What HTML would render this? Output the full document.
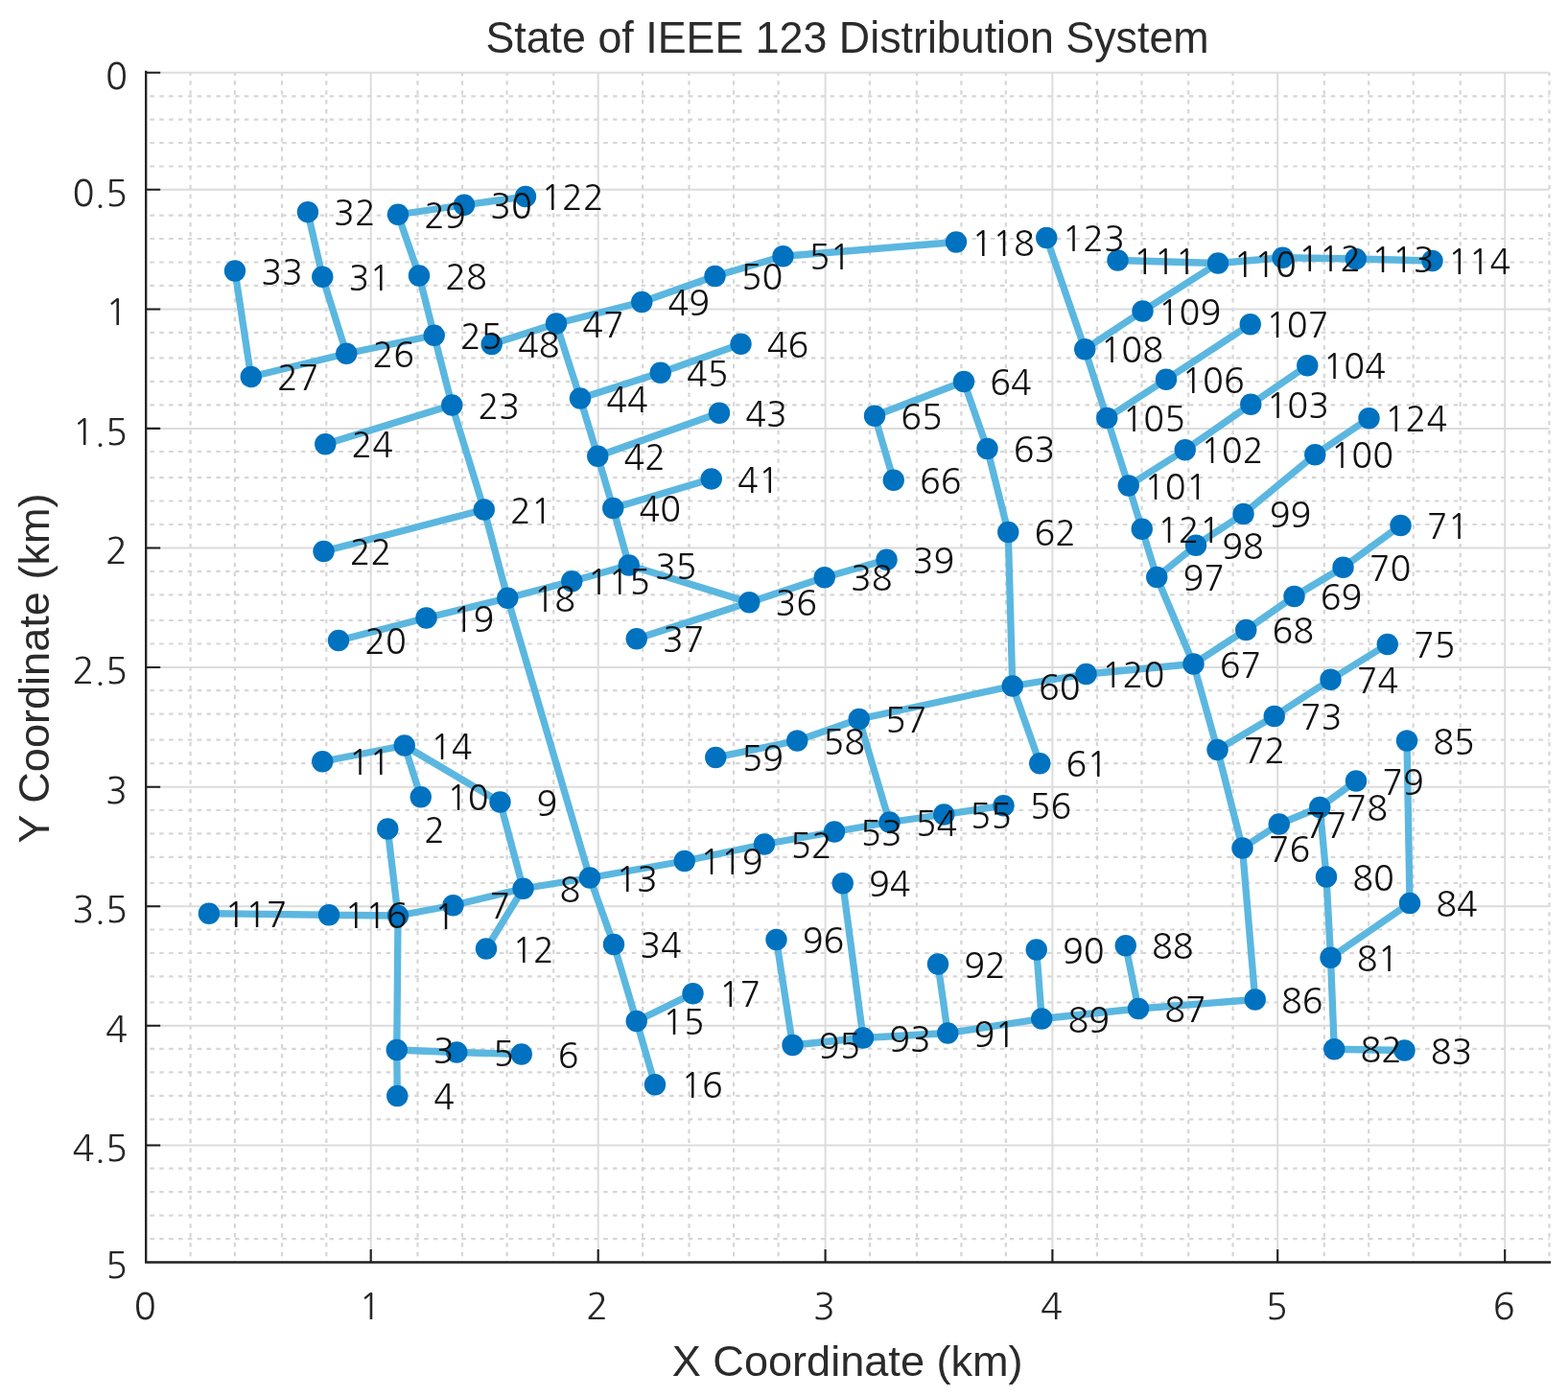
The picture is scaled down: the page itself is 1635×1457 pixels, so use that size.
<!DOCTYPE html><html><head><meta charset="utf-8"><title>State of IEEE 123 Distribution System</title>
<style>html,body{margin:0;padding:0;background:#fff;}svg{display:block;}svg{font-family:"Liberation Sans",Arial,Helvetica,sans-serif;}</style></head><body>
<svg width="1635" height="1457" viewBox="0 0 1635 1457">
<rect width="1635" height="1457" fill="#fff"/>
<path d="M198.6 75.8V1316.5M244.9 75.8V1316.5M294 75.8V1316.5M340.3 75.8V1316.5M435.5 75.8V1316.5M482 75.8V1316.5M528.6 75.8V1316.5M577.2 75.8V1316.5M670.1 75.8V1316.5M718.5 75.8V1316.5M765.1 75.8V1316.5M811.6 75.8V1316.5M907 75.8V1316.5M956 75.8V1316.5M1002.4 75.8V1316.5M1048.8 75.8V1316.5M1143.9 75.8V1316.5M1190.5 75.8V1316.5M1239.2 75.8V1316.5M1285.6 75.8V1316.5M1380.8 75.8V1316.5M1427.2 75.8V1316.5M1473.7 75.8V1316.5M1522.7 75.8V1316.5M1615.5 75.8V1316.5" stroke="#d6d6d6" stroke-width="2.2" stroke-dasharray="4.5 5.35" stroke-dashoffset="1.3" fill="none"/>
<path d="M152.2 100.3H1615.5M152.2 124.6H1615.5M152.2 149H1615.5M152.2 173.5H1615.5M152.2 224.6H1615.5M152.2 249H1615.5M152.2 273.5H1615.5M152.2 297.9H1615.5M152.2 346.8H1615.5M152.2 373.4H1615.5M152.2 397.9H1615.5M152.2 422.4H1615.5M152.2 471H1615.5M152.2 498.2H1615.5M152.2 522.5H1615.5M152.2 547H1615.5M152.2 595.9H1615.5M152.2 620.4H1615.5M152.2 647H1615.5M152.2 671.5H1615.5M152.2 720.2H1615.5M152.2 744.7H1615.5M152.2 771.6H1615.5M152.2 796.1H1615.5M152.2 845H1615.5M152.2 869.4H1615.5M152.2 893.9H1615.5M152.2 921H1615.5M152.2 969.5H1615.5M152.2 994H1615.5M152.2 1018.4H1615.5M152.2 1045.5H1615.5M152.2 1093.9H1615.5M152.2 1118.4H1615.5M152.2 1142.9H1615.5M152.2 1167.4H1615.5M152.2 1218.7H1615.5M152.2 1243.2H1615.5M152.2 1267.7H1615.5M152.2 1292.2H1615.5" stroke="#d6d6d6" stroke-width="2.2" stroke-dasharray="4.5 5.35" stroke-dashoffset="-4.2" fill="none"/>
<path d="M386.7 75.8V1316.5M623.7 75.8V1316.5M860.6 75.8V1316.5M1097.4 75.8V1316.5M1332.2 75.8V1316.5M1569.2 75.8V1316.5M152.2 75.8H1615.5M152.2 197.8H1615.5M152.2 322.5H1615.5M152.2 446.9H1615.5M152.2 571.5H1615.5M152.2 696H1615.5M152.2 820.7H1615.5M152.2 945.3H1615.5M152.2 1069.8H1615.5M152.2 1194.5H1615.5" stroke="#dcdcdc" stroke-width="2.0" fill="none"/>
<path d="M415 955L404.25 864.5M415 955L413.75 1095M415 955L472.5 944.25M413.75 1095L414.25 1143M413.75 1095L476.25 1097.5M476.25 1097.5L543.75 1099.5M472.5 944.25L545.5 926.75M545.5 926.75L507 989.5M545.5 926.75L521.5 836.5M545.5 926.75L615 915.5M521.5 836.5L421.75 777.5M615 915.5L640 985M615 915.5L529.25 623.75M421.75 777.5L336.25 794.25M421.75 777.5L438.75 831.25M663.75 1065L683 1131.25M663.75 1065L722.5 1036.25M529.25 623.75L444.5 644.5M529.25 623.75L504.75 531.5M444.5 644.5L353 668M504.75 531.5L337.5 575M504.75 531.5L471.25 422.5M471.25 422.5L339.25 463.25M471.25 422.5L452.7 349.8M452.7 349.8L361.25 368.75M452.7 349.8L437 287.5M361.25 368.75L261.75 393M361.25 368.75L336.25 288.75M261.75 393L245 282.5M437 287.5L415 223.75M415 223.75L484 213.75M484 213.75L548 205M336.25 288.75L320.9 221.2M640 985L663.75 1065M655.75 589.5L781.25 628.25M655.75 589.5L639.25 530M781.25 628.25L663.75 666.25M781.25 628.25L859.75 602.25M859.75 602.25L924.5 583.75M639.25 530L741.75 499.5M639.25 530L623.25 475.75M623.25 475.75L750 430.75M623.25 475.75L605 415.5M605 415.5L688.75 388.75M605 415.5L580 337.5M688.75 388.75L772.5 358.75M580 337.5L512.7 359M580 337.5L669.25 315M669.25 315L745.5 288M745.5 288L816.5 267.25M816.5 267.25L997 252.5M797 880.5L870 867.5M870 867.5L927.5 857.5M927.5 857.5L984.25 849.5M927.5 857.5L895.75 750M984.25 849.5L1046.5 840.25M895.75 750L831.25 772.5M895.75 750L1055.75 715.5M831.25 772.5L746.25 790M1055.75 715.5L1084.25 796.25M1055.75 715.5L1051.25 555M1051.25 555L1029.5 468M1029.5 468L1005 398M1005 398L912 433.75M912 433.75L931.75 500.75M1244.5 692.5L1299.25 657M1244.5 692.5L1269.5 782M1244.5 692.5L1206.25 602M1299.25 657L1349.5 622M1349.5 622L1400.5 591.75M1400.5 591.75L1460.5 548M1269.5 782L1328.75 747M1269.5 782L1295.5 884.5M1328.75 747L1387.5 708.75M1387.5 708.75L1446.75 672M1295.5 884.5L1333.75 859.5M1295.5 884.5L1308.75 1042.5M1333.75 859.5L1376.25 842M1376.25 842L1414 814.5M1376.25 842L1383 914.5M1383 914.5L1387.5 998.75M1387.5 998.75L1391.25 1094.25M1387.5 998.75L1470 942M1391.25 1094.25L1464.5 1095.5M1470 942L1467 772.5M1308.75 1042.5L1187 1052M1187 1052L1173.75 986.25M1187 1052L1086.25 1062.5M1086.25 1062.5L1080.75 990.5M1086.25 1062.5L988.25 1077.5M988.25 1077.5L978 1005.5M988.25 1077.5L900 1082.5M900 1082.5L878.75 921.25M900 1082.5L826.5 1090M826.5 1090L809.5 980M1206.25 602L1247 568.75M1206.25 602L1190.75 551.75M1247 568.75L1296.5 536M1296.5 536L1371.25 474.25M1371.25 474.25L1427.5 436.25M1190.75 551.75L1176.75 506.5M1176.75 506.5L1235.75 469.25M1176.75 506.5L1154.25 436M1235.75 469.25L1304.25 421.75M1304.25 421.75L1363.25 381.25M1154.25 436L1216 395.75M1154.25 436L1131.25 364.25M1216 395.75L1303.75 338.25M1131.25 364.25L1191.5 324.5M1131.25 364.25L1091.25 248M1191.5 324.5L1270 274.5M1270 274.5L1165.5 271.5M1270 274.5L1337.5 268.75M1337.5 268.75L1413.75 270M1413.75 270L1493.5 272M529.25 623.75L596.25 606.25M596.25 606.25L655.75 589.5M217.9 952.75L343 954.25M343 954.25L415 955M615 915.5L713.75 898M713.75 898L797 880.5M1055.75 715.5L1132.5 703M1132.5 703L1244.5 692.5" stroke="#5bb7e0" stroke-width="7.3" stroke-linecap="round" fill="none"/>
<g fill="#0072bf">
<circle cx="415" cy="955" r="11.2"/>
<circle cx="404.25" cy="864.5" r="11.2"/>
<circle cx="413.75" cy="1095" r="11.2"/>
<circle cx="414.25" cy="1143" r="11.2"/>
<circle cx="476.25" cy="1097.5" r="11.2"/>
<circle cx="543.75" cy="1099.5" r="11.2"/>
<circle cx="472.5" cy="944.25" r="11.2"/>
<circle cx="545.5" cy="926.75" r="11.2"/>
<circle cx="521.5" cy="836.5" r="11.2"/>
<circle cx="438.75" cy="831.25" r="11.2"/>
<circle cx="336.25" cy="794.25" r="11.2"/>
<circle cx="507" cy="989.5" r="11.2"/>
<circle cx="615" cy="915.5" r="11.2"/>
<circle cx="421.75" cy="777.5" r="11.2"/>
<circle cx="663.75" cy="1065" r="11.2"/>
<circle cx="683" cy="1131.25" r="11.2"/>
<circle cx="722.5" cy="1036.25" r="11.2"/>
<circle cx="529.25" cy="623.75" r="11.2"/>
<circle cx="444.5" cy="644.5" r="11.2"/>
<circle cx="353" cy="668" r="11.2"/>
<circle cx="504.75" cy="531.5" r="11.2"/>
<circle cx="337.5" cy="575" r="11.2"/>
<circle cx="471.25" cy="422.5" r="11.2"/>
<circle cx="339.25" cy="463.25" r="11.2"/>
<circle cx="452.7" cy="349.8" r="11.2"/>
<circle cx="361.25" cy="368.75" r="11.2"/>
<circle cx="261.75" cy="393" r="11.2"/>
<circle cx="437" cy="287.5" r="11.2"/>
<circle cx="415" cy="223.75" r="11.2"/>
<circle cx="484" cy="213.75" r="11.2"/>
<circle cx="336.25" cy="288.75" r="11.2"/>
<circle cx="320.9" cy="221.2" r="11.2"/>
<circle cx="245" cy="282.5" r="11.2"/>
<circle cx="640" cy="985" r="11.2"/>
<circle cx="655.75" cy="589.5" r="11.2"/>
<circle cx="781.25" cy="628.25" r="11.2"/>
<circle cx="663.75" cy="666.25" r="11.2"/>
<circle cx="859.75" cy="602.25" r="11.2"/>
<circle cx="924.5" cy="583.75" r="11.2"/>
<circle cx="639.25" cy="530" r="11.2"/>
<circle cx="741.75" cy="499.5" r="11.2"/>
<circle cx="623.25" cy="475.75" r="11.2"/>
<circle cx="750" cy="430.75" r="11.2"/>
<circle cx="605" cy="415.5" r="11.2"/>
<circle cx="688.75" cy="388.75" r="11.2"/>
<circle cx="772.5" cy="358.75" r="11.2"/>
<circle cx="580" cy="337.5" r="11.2"/>
<circle cx="512.7" cy="359" r="11.2"/>
<circle cx="669.25" cy="315" r="11.2"/>
<circle cx="745.5" cy="288" r="11.2"/>
<circle cx="816.5" cy="267.25" r="11.2"/>
<circle cx="797" cy="880.5" r="11.2"/>
<circle cx="870" cy="867.5" r="11.2"/>
<circle cx="927.5" cy="857.5" r="11.2"/>
<circle cx="984.25" cy="849.5" r="11.2"/>
<circle cx="1046.5" cy="840.25" r="11.2"/>
<circle cx="895.75" cy="750" r="11.2"/>
<circle cx="831.25" cy="772.5" r="11.2"/>
<circle cx="746.25" cy="790" r="11.2"/>
<circle cx="1055.75" cy="715.5" r="11.2"/>
<circle cx="1084.25" cy="796.25" r="11.2"/>
<circle cx="1051.25" cy="555" r="11.2"/>
<circle cx="1029.5" cy="468" r="11.2"/>
<circle cx="1005" cy="398" r="11.2"/>
<circle cx="912" cy="433.75" r="11.2"/>
<circle cx="931.75" cy="500.75" r="11.2"/>
<circle cx="1244.5" cy="692.5" r="11.2"/>
<circle cx="1299.25" cy="657" r="11.2"/>
<circle cx="1349.5" cy="622" r="11.2"/>
<circle cx="1400.5" cy="591.75" r="11.2"/>
<circle cx="1460.5" cy="548" r="11.2"/>
<circle cx="1269.5" cy="782" r="11.2"/>
<circle cx="1328.75" cy="747" r="11.2"/>
<circle cx="1387.5" cy="708.75" r="11.2"/>
<circle cx="1446.75" cy="672" r="11.2"/>
<circle cx="1295.5" cy="884.5" r="11.2"/>
<circle cx="1333.75" cy="859.5" r="11.2"/>
<circle cx="1376.25" cy="842" r="11.2"/>
<circle cx="1414" cy="814.5" r="11.2"/>
<circle cx="1383" cy="914.5" r="11.2"/>
<circle cx="1387.5" cy="998.75" r="11.2"/>
<circle cx="1391.25" cy="1094.25" r="11.2"/>
<circle cx="1464.5" cy="1095.5" r="11.2"/>
<circle cx="1470" cy="942" r="11.2"/>
<circle cx="1467" cy="772.5" r="11.2"/>
<circle cx="1308.75" cy="1042.5" r="11.2"/>
<circle cx="1187" cy="1052" r="11.2"/>
<circle cx="1173.75" cy="986.25" r="11.2"/>
<circle cx="1086.25" cy="1062.5" r="11.2"/>
<circle cx="1080.75" cy="990.5" r="11.2"/>
<circle cx="988.25" cy="1077.5" r="11.2"/>
<circle cx="978" cy="1005.5" r="11.2"/>
<circle cx="900" cy="1082.5" r="11.2"/>
<circle cx="878.75" cy="921.25" r="11.2"/>
<circle cx="826.5" cy="1090" r="11.2"/>
<circle cx="809.5" cy="980" r="11.2"/>
<circle cx="1206.25" cy="602" r="11.2"/>
<circle cx="1247" cy="568.75" r="11.2"/>
<circle cx="1296.5" cy="536" r="11.2"/>
<circle cx="1371.25" cy="474.25" r="11.2"/>
<circle cx="1176.75" cy="506.5" r="11.2"/>
<circle cx="1235.75" cy="469.25" r="11.2"/>
<circle cx="1304.25" cy="421.75" r="11.2"/>
<circle cx="1363.25" cy="381.25" r="11.2"/>
<circle cx="1154.25" cy="436" r="11.2"/>
<circle cx="1216" cy="395.75" r="11.2"/>
<circle cx="1303.75" cy="338.25" r="11.2"/>
<circle cx="1131.25" cy="364.25" r="11.2"/>
<circle cx="1191.5" cy="324.5" r="11.2"/>
<circle cx="1270" cy="274.5" r="11.2"/>
<circle cx="1165.5" cy="271.5" r="11.2"/>
<circle cx="1337.5" cy="268.75" r="11.2"/>
<circle cx="1413.75" cy="270" r="11.2"/>
<circle cx="1493.5" cy="272" r="11.2"/>
<circle cx="596.25" cy="606.25" r="11.2"/>
<circle cx="343" cy="954.25" r="11.2"/>
<circle cx="217.9" cy="952.75" r="11.2"/>
<circle cx="997" cy="252.5" r="11.2"/>
<circle cx="713.75" cy="898" r="11.2"/>
<circle cx="1132.5" cy="703" r="11.2"/>
<circle cx="1190.75" cy="551.75" r="11.2"/>
<circle cx="548" cy="205" r="11.2"/>
<circle cx="1091.25" cy="248" r="11.2"/>
<circle cx="1427.5" cy="436.25" r="11.2"/>
</g>
<path d="M152.2 74.9V1316.5H1616" stroke="#1f1f1f" stroke-width="2.3" fill="none" stroke-linecap="square"/>
<path d="M152.2 75.8h15M152.2 197.8h15M152.2 322.5h15M152.2 446.9h15M152.2 571.5h15M152.2 696h15M152.2 820.7h15M152.2 945.3h15M152.2 1069.8h15M152.2 1194.5h15M386.7 1316.5v-13.5M623.7 1316.5v-13.5M860.6 1316.5v-13.5M1097.4 1316.5v-13.5M1332.2 1316.5v-13.5M1569.2 1316.5v-13.5" stroke="#1f1f1f" stroke-width="2.1" fill="none"/>
<g font-size="38" fill="#262626" font-family="NanumGothic,'Liberation Sans',sans-serif">
<text transform="translate(133 92.6) scale(1.0 1)" text-anchor="end">0</text>
<text transform="translate(133 214.6) scale(1.0 1)" text-anchor="end">0.5</text>
<text transform="translate(133 339.3) scale(1.0 1)" text-anchor="end">1</text>
<text transform="translate(133 463.7) scale(1.0 1)" text-anchor="end">1.5</text>
<text transform="translate(133 588.3) scale(1.0 1)" text-anchor="end">2</text>
<text transform="translate(133 712.8) scale(1.0 1)" text-anchor="end">2.5</text>
<text transform="translate(133 837.5) scale(1.0 1)" text-anchor="end">3</text>
<text transform="translate(133 962.1) scale(1.0 1)" text-anchor="end">3.5</text>
<text transform="translate(133 1086.6) scale(1.0 1)" text-anchor="end">4</text>
<text transform="translate(133 1211.3) scale(1.0 1)" text-anchor="end">4.5</text>
<text transform="translate(133 1333.3) scale(1.0 1)" text-anchor="end">5</text>
<text transform="translate(151.2 1376.4) scale(1.0 1)" text-anchor="middle">0</text>
<text transform="translate(385.7 1376.4) scale(1.0 1)" text-anchor="middle">1</text>
<text transform="translate(622.7 1376.4) scale(1.0 1)" text-anchor="middle">2</text>
<text transform="translate(859.6 1376.4) scale(1.0 1)" text-anchor="middle">3</text>
<text transform="translate(1096.4 1376.4) scale(1.0 1)" text-anchor="middle">4</text>
<text transform="translate(1331.2 1376.4) scale(1.0 1)" text-anchor="middle">5</text>
<text transform="translate(1568.2 1376.4) scale(1.0 1)" text-anchor="middle">6</text>
</g>
<g font-size="35.5" fill="#111" text-anchor="middle" font-family="NanumGothic,'Liberation Sans',sans-serif">
<text transform="translate(464 969) scale(1.014 1)">1</text>
<text transform="translate(453.25 878.5) scale(1.014 1)">2</text>
<text transform="translate(462.75 1109) scale(1.014 1)">3</text>
<text transform="translate(463.25 1157) scale(1.014 1)">4</text>
<text transform="translate(525.25 1111.5) scale(1.014 1)">5</text>
<text transform="translate(592.75 1113.5) scale(1.014 1)">6</text>
<text transform="translate(521.5 958.25) scale(1.014 1)">7</text>
<text transform="translate(594.5 940.75) scale(1.014 1)">8</text>
<text transform="translate(570.5 850.5) scale(1.014 1)">9</text>
<text transform="translate(487.75 845.25) scale(1.014 1)">10</text>
<text transform="translate(385.25 808.25) scale(1.014 1)">11</text>
<text transform="translate(556 1003.5) scale(1.014 1)">12</text>
<text transform="translate(664 929.5) scale(1.014 1)">13</text>
<text transform="translate(470.75 791.5) scale(1.014 1)">14</text>
<text transform="translate(712.75 1079) scale(1.014 1)">15</text>
<text transform="translate(732 1145.25) scale(1.014 1)">16</text>
<text transform="translate(771.5 1050.25) scale(1.014 1)">17</text>
<text transform="translate(578.25 637.75) scale(1.014 1)">18</text>
<text transform="translate(493.5 658.5) scale(1.014 1)">19</text>
<text transform="translate(402 682) scale(1.014 1)">20</text>
<text transform="translate(553.75 545.5) scale(1.014 1)">21</text>
<text transform="translate(386.5 589) scale(1.014 1)">22</text>
<text transform="translate(520.25 436.5) scale(1.014 1)">23</text>
<text transform="translate(388.25 477.25) scale(1.014 1)">24</text>
<text transform="translate(501.7 363.8) scale(1.014 1)">25</text>
<text transform="translate(410.25 382.75) scale(1.014 1)">26</text>
<text transform="translate(310.75 407) scale(1.014 1)">27</text>
<text transform="translate(486 301.5) scale(1.014 1)">28</text>
<text transform="translate(464 237.75) scale(1.014 1)">29</text>
<text transform="translate(533 227.75) scale(1.014 1)">30</text>
<text transform="translate(385.25 302.75) scale(1.014 1)">31</text>
<text transform="translate(369.9 235.2) scale(1.014 1)">32</text>
<text transform="translate(294 296.5) scale(1.014 1)">33</text>
<text transform="translate(689 999) scale(1.014 1)">34</text>
<text transform="translate(704.75 603.5) scale(1.014 1)">35</text>
<text transform="translate(830.25 642.25) scale(1.014 1)">36</text>
<text transform="translate(712.75 680.25) scale(1.014 1)">37</text>
<text transform="translate(908.75 616.25) scale(1.014 1)">38</text>
<text transform="translate(973.5 597.75) scale(1.014 1)">39</text>
<text transform="translate(688.25 544) scale(1.014 1)">40</text>
<text transform="translate(790.75 513.5) scale(1.014 1)">41</text>
<text transform="translate(672.25 489.75) scale(1.014 1)">42</text>
<text transform="translate(799 444.75) scale(1.014 1)">43</text>
<text transform="translate(654 429.5) scale(1.014 1)">44</text>
<text transform="translate(737.75 402.75) scale(1.014 1)">45</text>
<text transform="translate(821.5 372.75) scale(1.014 1)">46</text>
<text transform="translate(629 351.5) scale(1.014 1)">47</text>
<text transform="translate(561.7 373) scale(1.014 1)">48</text>
<text transform="translate(718.25 329) scale(1.014 1)">49</text>
<text transform="translate(794.5 302) scale(1.014 1)">50</text>
<text transform="translate(865.5 281.25) scale(1.014 1)">51</text>
<text transform="translate(846 894.5) scale(1.014 1)">52</text>
<text transform="translate(919 881.5) scale(1.014 1)">53</text>
<text transform="translate(976.5 871.5) scale(1.014 1)">54</text>
<text transform="translate(1033.25 863.5) scale(1.014 1)">55</text>
<text transform="translate(1095.5 854.25) scale(1.014 1)">56</text>
<text transform="translate(944.75 764) scale(1.014 1)">57</text>
<text transform="translate(880.25 786.5) scale(1.014 1)">58</text>
<text transform="translate(795.25 804) scale(1.014 1)">59</text>
<text transform="translate(1104.75 729.5) scale(1.014 1)">60</text>
<text transform="translate(1133.25 810.25) scale(1.014 1)">61</text>
<text transform="translate(1100.25 569) scale(1.014 1)">62</text>
<text transform="translate(1078.5 482) scale(1.014 1)">63</text>
<text transform="translate(1054 412) scale(1.014 1)">64</text>
<text transform="translate(961 447.75) scale(1.014 1)">65</text>
<text transform="translate(980.75 514.75) scale(1.014 1)">66</text>
<text transform="translate(1293.5 706.5) scale(1.014 1)">67</text>
<text transform="translate(1348.25 671) scale(1.014 1)">68</text>
<text transform="translate(1398.5 636) scale(1.014 1)">69</text>
<text transform="translate(1449.5 605.75) scale(1.014 1)">70</text>
<text transform="translate(1509.5 562) scale(1.014 1)">71</text>
<text transform="translate(1318.5 796) scale(1.014 1)">72</text>
<text transform="translate(1377.75 761) scale(1.014 1)">73</text>
<text transform="translate(1436.5 722.75) scale(1.014 1)">74</text>
<text transform="translate(1495.75 686) scale(1.014 1)">75</text>
<text transform="translate(1344.5 898.5) scale(1.014 1)">76</text>
<text transform="translate(1382.75 873.5) scale(1.014 1)">77</text>
<text transform="translate(1425.25 856) scale(1.014 1)">78</text>
<text transform="translate(1463 828.5) scale(1.014 1)">79</text>
<text transform="translate(1432 928.5) scale(1.014 1)">80</text>
<text transform="translate(1436.5 1012.75) scale(1.014 1)">81</text>
<text transform="translate(1440.25 1108.25) scale(1.014 1)">82</text>
<text transform="translate(1513.5 1109.5) scale(1.014 1)">83</text>
<text transform="translate(1519 956) scale(1.014 1)">84</text>
<text transform="translate(1516 786.5) scale(1.014 1)">85</text>
<text transform="translate(1357.75 1056.5) scale(1.014 1)">86</text>
<text transform="translate(1236 1066) scale(1.014 1)">87</text>
<text transform="translate(1222.75 1000.25) scale(1.014 1)">88</text>
<text transform="translate(1135.25 1076.5) scale(1.014 1)">89</text>
<text transform="translate(1129.75 1004.5) scale(1.014 1)">90</text>
<text transform="translate(1037.25 1091.5) scale(1.014 1)">91</text>
<text transform="translate(1027 1019.5) scale(1.014 1)">92</text>
<text transform="translate(949 1096.5) scale(1.014 1)">93</text>
<text transform="translate(927.75 935.25) scale(1.014 1)">94</text>
<text transform="translate(875.5 1104) scale(1.014 1)">95</text>
<text transform="translate(858.5 994) scale(1.014 1)">96</text>
<text transform="translate(1255.25 616) scale(1.014 1)">97</text>
<text transform="translate(1296 582.75) scale(1.014 1)">98</text>
<text transform="translate(1345.5 550) scale(1.014 1)">99</text>
<text transform="translate(1420.25 488.25) scale(1.014 1)">100</text>
<text transform="translate(1225.75 520.5) scale(1.014 1)">101</text>
<text transform="translate(1284.75 483.25) scale(1.014 1)">102</text>
<text transform="translate(1353.25 435.75) scale(1.014 1)">103</text>
<text transform="translate(1412.25 395.25) scale(1.014 1)">104</text>
<text transform="translate(1203.25 450) scale(1.014 1)">105</text>
<text transform="translate(1265 409.75) scale(1.014 1)">106</text>
<text transform="translate(1352.75 352.25) scale(1.014 1)">107</text>
<text transform="translate(1180.25 378.25) scale(1.014 1)">108</text>
<text transform="translate(1240.5 338.5) scale(1.014 1)">109</text>
<text transform="translate(1319 288.5) scale(1.014 1)">110</text>
<text transform="translate(1214.5 285.5) scale(1.014 1)">111</text>
<text transform="translate(1386.5 282.75) scale(1.014 1)">112</text>
<text transform="translate(1462.75 284) scale(1.014 1)">113</text>
<text transform="translate(1542.5 286) scale(1.014 1)">114</text>
<text transform="translate(645.25 620.25) scale(1.014 1)">115</text>
<text transform="translate(392 968.25) scale(1.014 1)">116</text>
<text transform="translate(266.9 966.75) scale(1.014 1)">117</text>
<text transform="translate(1046 266.5) scale(1.014 1)">118</text>
<text transform="translate(762.75 912) scale(1.014 1)">119</text>
<text transform="translate(1181.5 717) scale(1.014 1)">120</text>
<text transform="translate(1239.75 565.75) scale(1.014 1)">121</text>
<text transform="translate(597 219) scale(1.014 1)">122</text>
<text transform="translate(1140.25 262) scale(1.014 1)">123</text>
<text transform="translate(1476.5 450.25) scale(1.014 1)">124</text>
</g>
<text transform="translate(883.5 55.06) scale(1 1.04)" font-size="44.8" fill="#2b2b2b" text-anchor="middle">State of IEEE 123 Distribution System</text>
<text x="883.7" y="1434.7" font-size="45.1" fill="#2b2b2b" text-anchor="middle">X Coordinate (km)</text>
<text transform="translate(50.8 697) rotate(-90)" x="0" y="0" font-size="45.1" fill="#2b2b2b" text-anchor="middle">Y Coordinate (km)</text>
</svg></body></html>
